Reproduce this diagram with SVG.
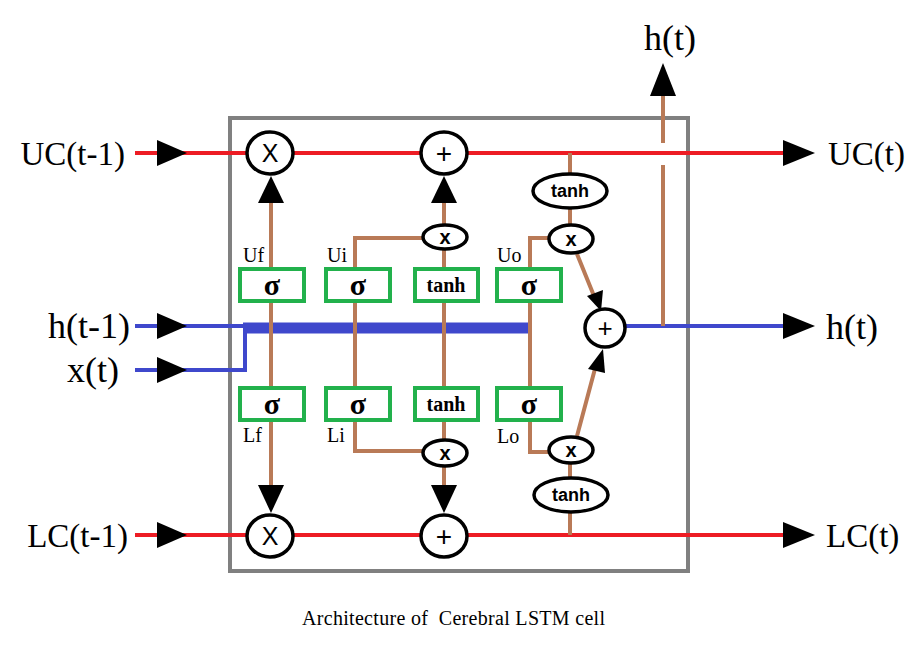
<svg xmlns="http://www.w3.org/2000/svg" width="921" height="665" viewBox="0 0 921 665">
<style>
.red{stroke:#ed1c24;stroke-width:4;fill:none}
.blue{stroke:#3f48cc;stroke-width:4;fill:none}
.brown{stroke:#b97a57;stroke-width:4;fill:none}
.arr{fill:#000}
.op{fill:#fff;stroke:#000;stroke-width:3.5}
.gate{fill:#fff;stroke:#22b14c;stroke-width:4}
.io{font-family:"Liberation Serif",serif;fill:#000}
.lab{font-family:"Liberation Serif",serif;font-size:20px;fill:#000}
.gt{font-family:"Liberation Serif",serif;font-weight:bold;fill:#000;text-anchor:middle}
.ot{font-family:"Liberation Sans",Arial,sans-serif;fill:#000;text-anchor:middle}
</style>
<rect width="921" height="665" fill="#fff"/>
<rect id="cell" x="230" y="118" width="458" height="453" fill="none" stroke="#808080" stroke-width="4"/>
<g id="connectors">
  <path class="red" d="M135 153H785"/>
  <path class="red" d="M135 535H785"/>
  <path class="blue" d="M135 326H245M135 370H245V328M604 326H785"/>
  <path d="M243 328H530" stroke="#3f48cc" stroke-width="11" fill="none"/>
  <path class="brown" d="M271 300V389M355 300V389M444 300V389M530 300V389"/>
  <path class="brown" d="M271 268V195M271 420V490"/>
  <path class="brown" d="M355 268V238H425M444 268V248M444 226V200"/>
  <path class="brown" d="M355 420V451H425M444 420V440M444 466V490"/>
  <path class="brown" d="M530 268V238H550M570 153V175M570 208V225"/>
  <path class="brown" d="M530 420V452H550M570 535V512M570 478V463"/>
  <path class="brown" d="M577 254L594 296M577 436L596 365"/>
  <path class="brown" d="M663 326V165M663 143V92"/>
  <polygon class="arr" points="157,140 187,153 157,166"/>
  <polygon class="arr" points="157,313 187,326 157,339"/>
  <polygon class="arr" points="157,357 187,370 157,383"/>
  <polygon class="arr" points="157,522 187,535 157,548"/>
  <polygon class="arr" points="783,140 815,153 783,166"/>
  <polygon class="arr" points="783,313 815,326 783,339"/>
  <polygon class="arr" points="783,522 815,535 783,548"/>
  <polygon class="arr" points="650,96 663,63 676,96"/>
  <polygon class="arr" points="258,203 271,176 284,203"/>
  <polygon class="arr" points="431,203 444,176 457,203"/>
  <polygon class="arr" points="258,485 271,513 284,485"/>
  <polygon class="arr" points="431,485 444,513 457,485"/>
  <polygon class="arr" points="587,296 603,290 601,311"/>
  <polygon class="arr" points="588,369 605,373 603,349"/>
</g>
<g id="uc-mult"><ellipse class="op" cx="270" cy="153" rx="23" ry="21"/><text class="ot" x="270" y="162" font-size="25">X</text></g>
<g id="uc-plus"><ellipse class="op" cx="444" cy="153" rx="23" ry="21"/><text class="ot" x="444" y="163" font-size="28">+</text></g>
<g id="lc-mult"><ellipse class="op" cx="270" cy="536" rx="23" ry="21"/><text class="ot" x="270" y="545" font-size="25">X</text></g>
<g id="lc-plus"><ellipse class="op" cx="444" cy="536" rx="23" ry="21"/><text class="ot" x="444" y="546" font-size="28">+</text></g>
<g id="ui-mult"><ellipse class="op" cx="445" cy="237" rx="22" ry="12"/><text class="ot" x="445" y="244" font-size="20" font-weight="bold">x</text></g>
<g id="li-mult"><ellipse class="op" cx="445" cy="453" rx="22" ry="13"/><text class="ot" x="445" y="460" font-size="20" font-weight="bold">x</text></g>
<g id="uo-mult"><ellipse class="op" cx="571" cy="239" rx="22" ry="14"/><text class="ot" x="571" y="246" font-size="20" font-weight="bold">x</text></g>
<g id="lo-mult"><ellipse class="op" cx="571" cy="450" rx="22" ry="13"/><text class="ot" x="571" y="457" font-size="20" font-weight="bold">x</text></g>
<g id="uo-tanh"><ellipse class="op" cx="570" cy="191" rx="37" ry="17"/><text class="ot" x="570" y="197" font-size="18" font-weight="bold">tanh</text></g>
<g id="lo-tanh"><ellipse class="op" cx="571" cy="495" rx="37" ry="17"/><text class="ot" x="571" y="501" font-size="18" font-weight="bold">tanh</text></g>
<g id="h-plus"><ellipse class="op" cx="605" cy="328" rx="20" ry="19"/><text class="ot" x="605" y="337" font-size="26">+</text></g>
<g id="uf"><rect class="gate" x="240" y="269" width="64" height="32"/><text class="gt" x="272" y="295" font-size="30">σ</text><text class="lab" x="243" y="262">Uf</text></g>
<g id="ui"><rect class="gate" x="326" y="269" width="64" height="32"/><text class="gt" x="358" y="295" font-size="30">σ</text><text class="lab" x="327" y="262">Ui</text></g>
<g id="ut"><rect class="gate" x="415" y="269" width="63" height="32"/><text class="gt" x="446" y="292" font-size="20">tanh</text></g>
<g id="uo"><rect class="gate" x="497" y="269" width="64" height="32"/><text class="gt" x="529" y="295" font-size="30">σ</text><text class="lab" x="497" y="262">Uo</text></g>
<g id="lf"><rect class="gate" x="240" y="388" width="64" height="32"/><text class="gt" x="272" y="414" font-size="30">σ</text><text class="lab" x="243" y="442">Lf</text></g>
<g id="li"><rect class="gate" x="326" y="388" width="64" height="32"/><text class="gt" x="358" y="414" font-size="30">σ</text><text class="lab" x="327" y="442">Li</text></g>
<g id="lt"><rect class="gate" x="415" y="388" width="63" height="32"/><text class="gt" x="446" y="411" font-size="20">tanh</text></g>
<g id="lo"><rect class="gate" x="497" y="388" width="64" height="32"/><text class="gt" x="529" y="414" font-size="30">σ</text><text class="lab" x="497" y="443">Lo</text></g>
<g id="labels">
  <text class="io" x="125" y="165" font-size="33" text-anchor="end">UC(t-1)</text>
  <text class="io" x="130" y="338" font-size="36" text-anchor="end">h(t-1)</text>
  <text class="io" x="119" y="382" font-size="36" text-anchor="end">x(t)</text>
  <text class="io" x="128" y="547" font-size="33" text-anchor="end">LC(t-1)</text>
  <text class="io" x="828" y="165" font-size="33">UC(t)</text>
  <text class="io" x="826" y="339" font-size="36">h(t)</text>
  <text class="io" x="826" y="547" font-size="33">LC(t)</text>
  <text class="io" x="670" y="50" font-size="36" text-anchor="middle">h(t)</text>
  <text class="io" x="302" y="625" font-size="20" textLength="303" lengthAdjust="spacing" xml:space="preserve">Architecture of  Cerebral LSTM cell</text>
</g>
</svg>
